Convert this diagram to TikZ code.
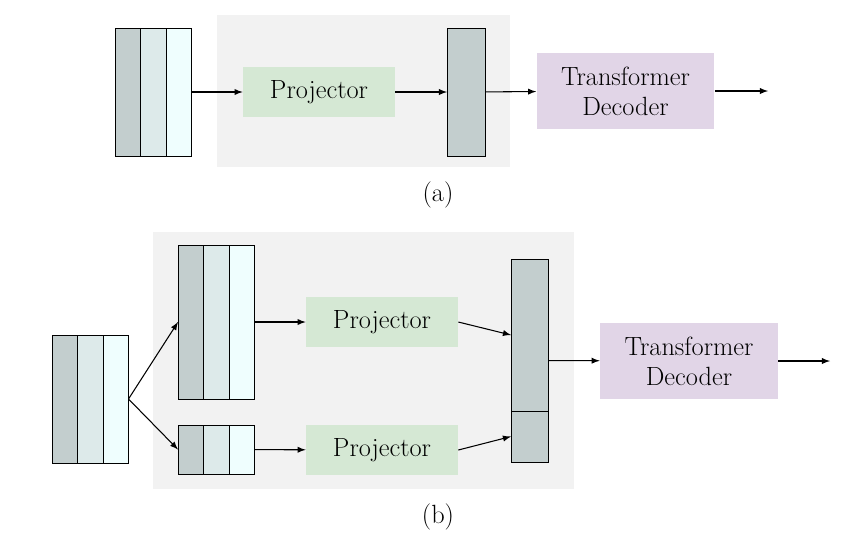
\documentclass[tikz,border=0pt]{standalone}
\definecolor{colone}{HTML}{C3CECE}
\definecolor{coltwo}{HTML}{DDEAEA}
\definecolor{colthree}{HTML}{EFFEFE}
\definecolor{projgreen}{HTML}{D5E8D4}
\definecolor{decpurple}{HTML}{E1D5E7}
\definecolor{backgray}{HTML}{F2F2F2}
\tikzstyle{every picture}+=[>=latex]
\tikzstyle{stackbox}=[inner sep=0pt, outer sep=0pt]
\tikzstyle{block}=[inner sep=0pt, font=\fontsize{15}{17}\selectfont, align=center]
\tikzstyle{proj}=[block, fill=projgreen, minimum width=3.04cm, minimum height=1cm]
\tikzstyle{dec}=[block, fill=decpurple, minimum width=3.56cm, minimum height=1.52cm]
\tikzstyle{back}=[fill=backgray, draw=none]
\tikzstyle{link}=[->, line width=0.6pt]

\begin{document}
\begin{tikzpicture}[x=0.02cm, y=-0.02cm]
	% columns of a feature stack: name, left, top, height, number of columns
	\newcommand\colstack[5]{
		\node[stackbox, minimum width=#5*0.51cm, minimum height=#4*0.02cm]
			(#1) at ({#2+#5*12.75}, {#3+#4/2}) {} ;
		\foreach \c/\f in {1/colone,2/coltwo,3/colthree}{
			\ifnum\c>#5\relax\else
				\draw[fill=\f, line width=0.5pt] ({#2+(\c-1)*25.5}, #3) rectangle ++(25.5, #4) ;
			\fi
		}
	}
	\useasboundingbox (0,0) rectangle (864,539) ;

	% (a)
	\fill[back] (217,15) rectangle (510,167) ;
	\colstack{inA}{115}{28}{128}{3}
	\node[proj] (projA) at (319,92) {Projector} ;
	\node[stackbox, draw, fill=colone, line width=0.5pt, minimum width=0.76cm, minimum height=2.56cm] (tokA) at (466,92) {} ;
	\node[dec] (decA) at (625.5,91) {Transformer\\Decoder} ;
	\coordinate (outA) at (768,91) ;
	\draw[link] (inA) -- (projA) ;
	\draw[link] (projA) -- (tokA) ;
	\draw[link] (tokA) -- (decA) ;
	\draw[link] (decA) -- (outA) ;
	\node[block] (labA) at (438,195) {(a)} ;

	% (b)
	\fill[back] (153,232) rectangle (574,489) ;
	\colstack{inB}{52}{335}{128}{3}
	\colstack{hiB}{178}{245}{154}{3}
	\colstack{loB}{178}{425}{49}{3}
	\node[proj] (projHi) at (382,322) {Projector} ;
	\node[proj] (projLo) at (382,450) {Projector} ;
	\node[stackbox, draw, fill=colone, line width=0.5pt, minimum width=0.74cm, minimum height=4.06cm] (tokB) at (529.5,360.5) {} ;
	\node[stackbox, draw, line width=0.5pt, minimum width=0.74cm, minimum height=1.02cm] (tokLo) at (529.5,436.5) {} ;
	\node[stackbox, minimum width=0.74cm, minimum height=3.04cm] (tokHi) at (529.5,335) {} ;
	\node[dec] (decB) at (689,361) {Transformer\\Decoder} ;
	\coordinate (outB) at (830,361) ;
	\draw[link] (inB.east) -- (hiB.west) ;
	\draw[link] (inB.east) -- (loB.west) ;
	\draw[link] (hiB) -- (projHi) ;
	\draw[link] (loB) -- (projLo) ;
	\draw[link] (projHi.east) -- (tokHi.west) ;
	\draw[link] (projLo.east) -- (tokLo.west) ;
	\draw[link] (tokB) -- (decB) ;
	\draw[link] (decB) -- (outB) ;
	\node[block] (labB) at (438,517) {(b)} ;
\end{tikzpicture}
\end{document}
